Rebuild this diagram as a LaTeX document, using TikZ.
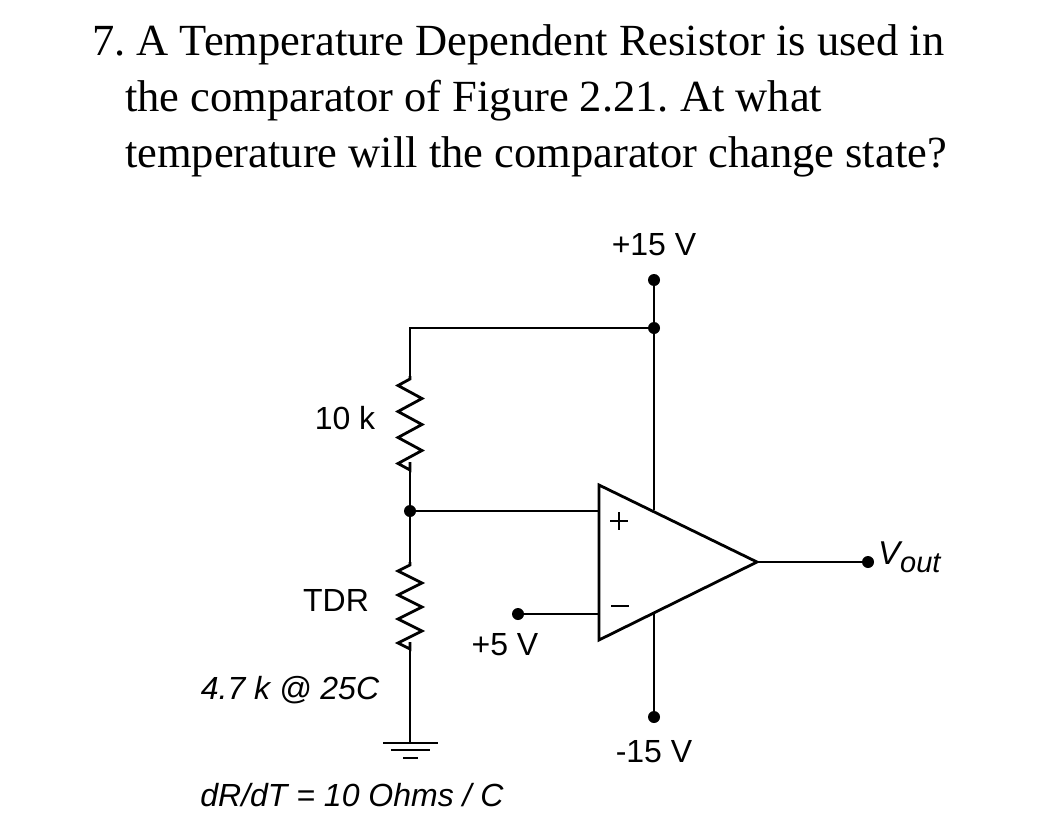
\documentclass[tikz,border=0pt]{standalone}
\usepackage{fontspec}
\setmainfont{Liberation Serif}
\newfontfamily\arialf{Liberation Sans}
\frenchspacing
\begin{document}
\begin{tikzpicture}[x=1pt,y=-1pt,
  wire/.style={line width=2.8pt},
  dotn/.style={circle,fill=black,inner sep=0pt,minimum size=12pt},
  lbl/.style={font=\arialf\fontsize{32}{36}\selectfont,inner sep=0pt},
  ilbl/.style={font=\arialf\itshape\fontsize{32}{36}\selectfont,inner sep=0pt},
  ttl/.style={font=\fontsize{44.5}{50}\selectfont,anchor=west,inner sep=0pt}]
\useasboundingbox (0,0) rectangle (1057,835);
\node[ttl] at (92,45) {7. A Temperature Dependent Resistor is used in};
\node[ttl] at (125,101) {the comparator of Figure 2.21. At what};
\node[ttl] at (125,157) {temperature will the comparator change state?};
% nodes
\node[dotn] (vp) at (654,280) {};
\node[dotn] (top) at (654,328) {};
\coordinate (tl) at (410,328);
\coordinate (r1a) at (410,376);
\coordinate (r1b) at (410,462);
\node[dotn] (mid) at (410,511) {};
\coordinate (r2a) at (410,562);
\coordinate (r2b) at (410,642);
\coordinate (gnd) at (410,743);
\node[dotn] (v5) at (518,614) {};
\node[dotn] (vm) at (654,717) {};
\node[dotn] (vo) at (868,562) {};
\coordinate (ip) at (599,511);
\coordinate (im) at (599,614);
\coordinate (out) at (757,562);
\coordinate (st) at (654,510);
\coordinate (sb) at (654,614);
% opamp
\draw[wire,line join=miter] (599,485) -- (757,562) -- (599,640) -- cycle;
\draw[wire] (610,521) -- (628,521) (619,512) -- (619,530);
\draw[wire] (611,606) -- (629,606);
% wires
\draw[wire] (vp) -- (top) -- (tl) -- (r1a);
\draw[wire] (top) -- (st);
\draw[wire] (r1a) -- ++(0,3) -- ++(-12,6.5) \foreach \i in {1,2,3}{ -- ++(24,13) -- ++(-24,13)} -- ++(12,6.5) -- (r1b);
\draw[wire] (r1b) -- (mid) -- (ip);
\draw[wire] (mid) -- (r2a);
\draw[wire] (r2a) -- ++(0,3) -- ++(-12,6) \foreach \i in {1,2,3}{ -- ++(24,12) -- ++(-24,12)} -- ++(12,6) -- (r2b);
\draw[wire] (r2b) -- (gnd);
\draw[wire] (383,743) -- (438,743) (391,750) -- (430,750) (403,758) -- (418,758);
\draw[wire] (v5) -- (im);
\draw[wire] (sb) -- (vm);
\draw[wire] (out) -- (vo);
% labels
\node[lbl] at (654,245) {+15 V};
\node[lbl] at (654,752) {-15 V};
\node[lbl] at (345,418) {10 k};
\node[lbl] at (336,600) {TDR};
\node[lbl] at (505,645) {+5 V};
\node[ilbl] at (290,690) {4.7 k @ 25C};
\node[ilbl] at (352,795) {dR/dT = 10 Ohms / C};
\node[anchor=west,inner sep=0pt,font=\arialf\itshape\fontsize{33}{36}\selectfont] at (878,557) {V\raisebox{-8pt}{\fontsize{29}{32}\selectfont out}};
\end{tikzpicture}
\end{document}
